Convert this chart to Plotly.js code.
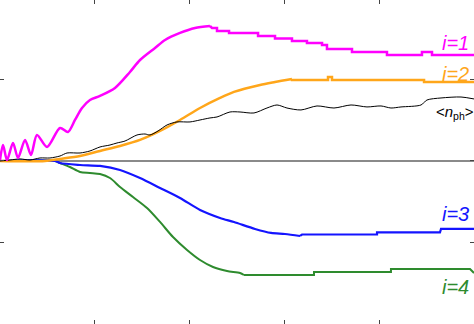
<!DOCTYPE html>
<html>
<head>
<meta charset="utf-8">
<script src="https://cdn.plot.ly/plotly-3.0.1.min.js"></script>
<style>html,body{margin:0;padding:0;background:#fff;}#chart{width:474px;height:324px;}</style>
</head>
<body>
<div id="chart"></div>
<script>
// i=1 (magenta)
const x1 = [0,0.032,0.074,0.137,0.19,0.264,0.327,0.39,0.496,0.633,0.717,0.791,0.865,0.949,1.055,1.213,1.371,1.477,1.635,1.741,1.899,2.057,2.215,2.236,2.289,2.289,2.416,2.416,2.722,2.722,2.901,2.901,3.08,3.08,3.238,3.238,3.397,3.397,3.449,3.449,3.713,3.713,4.082,4.082,4.451,4.451,4.557,4.557,5.0];
const y1 = [0.012,0.196,0.012,0.221,0.037,0.258,0.074,0.319,0.172,0.405,0.356,0.503,0.65,0.748,0.798,0.896,1.092,1.239,1.387,1.485,1.571,1.632,1.656,1.632,1.632,1.595,1.595,1.571,1.571,1.534,1.534,1.503,1.503,1.472,1.472,1.448,1.448,1.423,1.423,1.374,1.374,1.337,1.337,1.301,1.301,1.337,1.337,1.301,1.301];
// i=2 (orange)
const x2 = [0,0.475,0.633,0.844,1.055,1.266,1.477,1.688,1.899,2.11,2.321,2.468,2.743,2.901,3.08,3.08,3.46,3.46,3.502,3.502,4.473,4.473,5.0];
const y2 = [0,0,0.025,0.061,0.123,0.184,0.258,0.368,0.503,0.65,0.773,0.847,0.933,0.969,1.006,0.994,0.994,1.031,1.031,0.994,0.994,0.969,0.969];
// <n_ph> (black)
const xn = [0,0.105,0.211,0.316,0.422,0.527,0.633,0.707,0.844,0.949,1.055,1.16,1.234,1.319,1.445,1.53,1.582,1.667,1.762,1.867,2.004,2.11,2.215,2.289,2.426,2.532,2.679,2.816,2.922,3.027,3.175,3.344,3.523,3.703,3.871,4.019,4.124,4.23,4.441,4.504,4.652,4.863,5.0];
const yn = [0,0.012,0.025,0.012,0.037,0.037,0.061,0.098,0.098,0.123,0.172,0.196,0.221,0.245,0.319,0.331,0.319,0.368,0.442,0.479,0.479,0.503,0.528,0.54,0.601,0.601,0.589,0.65,0.687,0.65,0.626,0.675,0.65,0.687,0.663,0.675,0.65,0.663,0.687,0.748,0.773,0.785,0.761];
// i=3 (blue)
const x3 = [0,0.58,0.633,0.844,1.055,1.266,1.477,1.688,1.899,2.11,2.321,2.468,2.69,2.859,3.006,3.165,3.186,3.977,3.977,4.641,4.652,5.0];
const y3 = [0,0,-0.025,-0.049,-0.061,-0.11,-0.209,-0.331,-0.454,-0.601,-0.699,-0.749,-0.834,-0.883,-0.896,-0.92,-0.902,-0.902,-0.877,-0.877,-0.834,-0.834];
// i=4 (green)
const x4 = [0,0.58,0.633,0.738,0.844,0.949,1.055,1.16,1.266,1.403,1.551,1.688,1.825,1.973,2.11,2.247,2.395,2.532,2.574,3.312,3.312,4.124,4.124,4.958,5.0];
const y4 = [0,0,-0.025,-0.074,-0.135,-0.147,-0.16,-0.209,-0.319,-0.442,-0.577,-0.748,-0.933,-1.092,-1.215,-1.301,-1.35,-1.374,-1.399,-1.399,-1.362,-1.362,-1.325,-1.325,-1.374];

const labels = ['i=1','i=2','&lt;<i>n</i><sub>ph</sub>&gt;','i=3','i=4'];
const colors = ['#ff00ff','#ffa61a','#000000','#1414ff','#2e8b2e'];

// each series: smooth (spline) part up to index k, then stepped part
function series(x, y, k, color, width) {
  const out = [{x:x.slice(0,k+1), y:y.slice(0,k+1), mode:'lines',
                line:{color:color,width:width,shape:'spline',smoothing:0.8}}];
  if (k < x.length-1) {
    out.push({x:x.slice(k), y:y.slice(k), mode:'lines', line:{color:color,width:width}});
  }
  return out;
}

const traces = [].concat(
  series(x4,y4,18,colors[4],2),
  series(x3,y3,15,colors[3],2.2),
  series(x2,y2,14,colors[1],2.5),
  series(xn,yn,xn.length-1,colors[2],1),
  series(x1,y1,22,colors[0],2.5)
);

const annPos = [[0.96,0.866,20,true],[0.96,0.773,20,true],[0.96,0.652,15,false],[0.96,0.338,20,true],[0.96,0.113,20,true]];
const annotations = labels.map((t,i)=>({
  xref:'paper',yref:'paper',x:annPos[i][0],y:annPos[i][1],xanchor:'center',yanchor:'middle',
  text: annPos[i][3] ? '<i>'+t+'</i>' : t, showarrow:false,
  font:{family:'Liberation Sans, Arial, sans-serif',size:annPos[i][2],color:colors[i]}
}));

const layout = {
  width:474,height:324,margin:{l:0,r:0,t:0,b:0},
  paper_bgcolor:'#fff',plot_bgcolor:'#fff',showlegend:false,
  xaxis:{range:[0,5],tickvals:[1,2,3,4],ticks:'inside',ticklen:4,tickcolor:'#444',tickwidth:1,
         mirror:'allticks',showline:false,showgrid:false,showticklabels:false,zeroline:false},
  yaxis:{range:[-2,1.975],tickvals:[-1,0,1],ticks:'inside',ticklen:4,tickcolor:'#444',tickwidth:1,
         mirror:'allticks',showline:false,showgrid:false,showticklabels:false,
         zeroline:true,zerolinecolor:'#8a8a8a',zerolinewidth:1.5},
  annotations:annotations
};
Plotly.newPlot('chart',traces,layout,{staticPlot:true,displayModeBar:false});
</script>
</body>
</html>
